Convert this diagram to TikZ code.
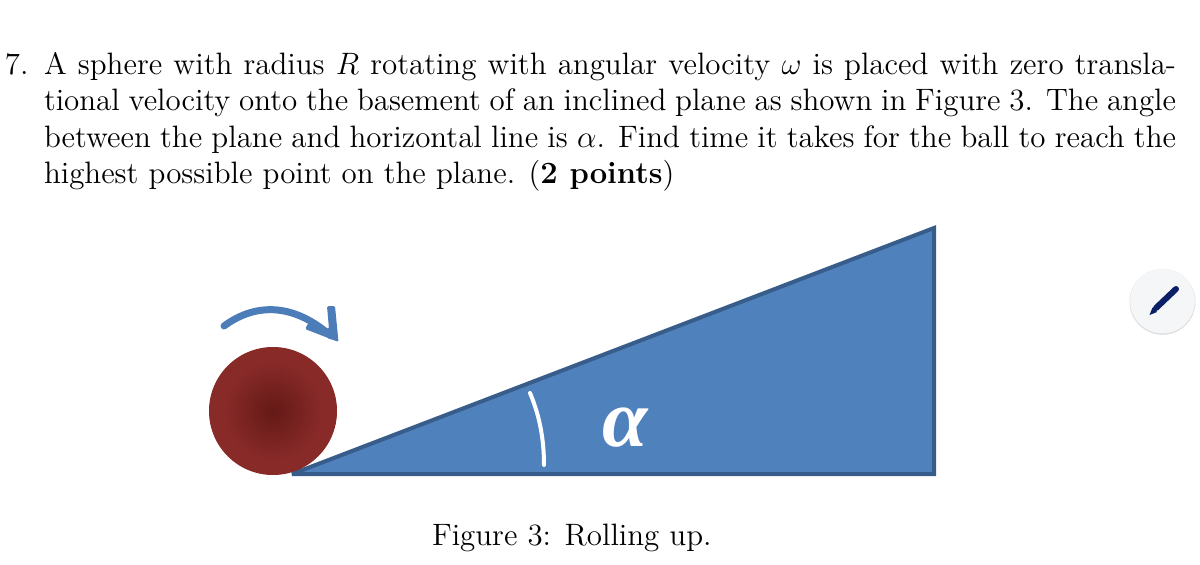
\documentclass[tikz,border=0pt]{standalone}
\usepackage{amsmath}
\usepackage{amssymb}
\usepackage{fontspec}
\newfontfamily\anglefont{Liberation Serif}
\definecolor{planeblue}{HTML}{4F81BD}
\definecolor{planeedge}{HTML}{385D8A}
\definecolor{ballout}{HTML}{872A28}
\definecolor{ballin}{HTML}{641916}
\definecolor{penblue}{HTML}{0B1F66}
\definecolor{btnfill}{HTML}{F5F6F8}
\pgfdeclareradialshading{ballshade}{\pgfpoint{0bp}{0bp}}{color(0bp)=(ballin); color(19bp)=(ballout); color(50bp)=(ballout)}
\tikzset{
  textline/.style={anchor=base west,inner sep=0pt,outer sep=0pt,scale=2.58,font=\fontsize{12}{14.5}\selectfont},
}
\begin{document}
\begin{tikzpicture}[x=1pt,y=-1pt]
\useasboundingbox (0,0) rectangle (1200,565);
% question text
\node[textline] (num) at (5,74.5) {7.};
\node[textline] (lineone) at (44,74.5) {\makebox[438.8pt][s]{A sphere with radius $R$ rotating with angular velocity $\omega$ is placed with zero transla-}};
\node[textline] (linetwo) at (44,110.8) {\makebox[438.8pt][s]{tional velocity onto the basement of an inclined plane as shown in Figure 3. The angle}};
\node[textline] (linethree) at (44,147.1) {\makebox[438.8pt][s]{between the plane and horizontal line is $\alpha$. Find time it takes for the ball to reach the}};
\node[textline] (linefour) at (44,183.4) {highest possible point on the plane. (\textbf{2 points})};
% plane
\draw[fill=planeblue,draw=planeedge,line width=4pt,line join=miter,miter limit=2] (292,474) -- (934,228) -- (934,474) -- cycle;
% ball
\fill[ballout] (273,411) circle (64);
\shade[shading=ballshade] (273,411) circle (63.5);
% rotation arrow
\draw[planeblue!90!planeedge,line width=7pt,line cap=round] (224,326) .. controls (258,301) and (296,305) .. (331,336);
\fill[planeblue!90!planeedge,rounded corners=1.5pt] (327,306) -- (335,306) -- (338.5,342) -- (305,329) -- (309,322) -- (329,329) -- cycle;
% angle mark and label
\draw[white,line width=4pt,line cap=round] (530,393) .. controls (538,412) and (544,435) .. (544,465);
\node[inner sep=0pt,white,font=\anglefont\bfseries\itshape\fontsize{82}{82}\selectfont] (anglelabel) at (625,428) {α};
% caption
\node[textline] (caption) at (432,545) {Figure 3: Rolling up.};
% edit button
\fill[black!12] (1162.5,301.8) circle (33);
\fill[btnfill] (1162.5,301) circle (32.3);
\draw[penblue,line width=6pt,line cap=round] (1176,289) -- (1156,308);
\fill[penblue] (1152.5,307.5) -- (1157,312) -- (1149.5,315) -- cycle;
\end{tikzpicture}
\end{document}
